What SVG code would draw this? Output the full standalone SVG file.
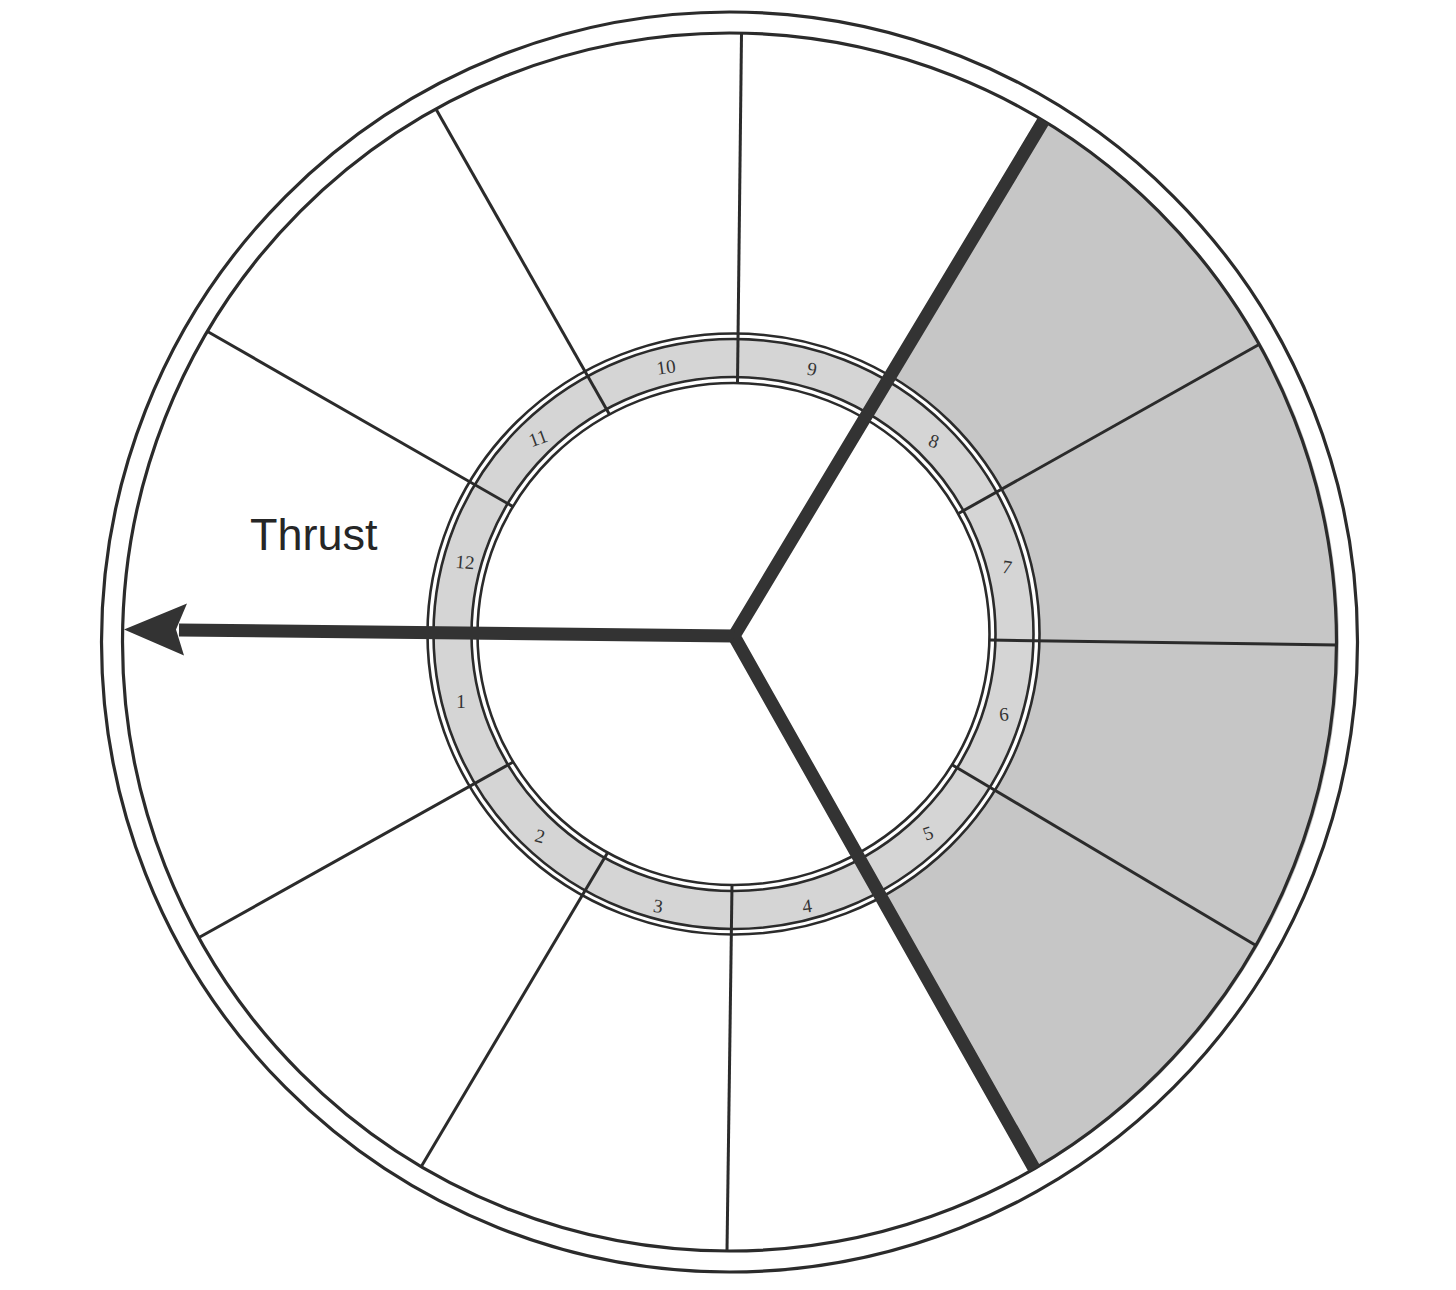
<svg xmlns="http://www.w3.org/2000/svg" width="1456" height="1290" viewBox="0 0 1456 1290">
  <style>
    .ring { fill: none; stroke: #2b2b2b; stroke-width: 2.6; }
    .rim { fill: none; stroke: #2b2b2b; stroke-width: 3.2; }
    .div { stroke: #2b2b2b; stroke-width: 3; fill: none; }
    .thick { stroke: #333333; stroke-width: 13; fill: none; stroke-linejoin: miter; }
    .num { font-family: "Liberation Serif", "DejaVu Serif", serif; font-size: 19px; fill: #333333; text-anchor: middle; }
    .label { font-family: "Liberation Sans", Arial, sans-serif; font-size: 45px; fill: #262626; }
  </style>
  <defs>
    <clipPath id="wheelClip">
      <ellipse cx="729.5" cy="642" rx="607" ry="609"/>
    </clipPath>
  </defs>
  <rect x="0" y="0" width="1456" height="1290" fill="#ffffff"/>

  <g id="shaded-sector">
    <path d="M 890 376 L 1044 120 A 607 609 0 0 1 1035 1170 L 881 897 A 306 300.5 0 0 0 890 376 Z" fill="#c6c6c6"/>
  </g>

  <g id="ring-band">
    <path fill="#d5d5d5" fill-rule="evenodd" d="M 433.5 634 a 300 295 0 1 0 600 0 a 300 295 0 1 0 -600 0 Z M 471.5 634 a 262 257 0 1 0 524 0 a 262 257 0 1 0 -524 0 Z"/>
  </g>

  <g id="rims">
    <ellipse class="rim" cx="729.5" cy="642" rx="628" ry="630"/>
    <ellipse class="rim" cx="729.5" cy="642" rx="607" ry="609"/>
    <ellipse class="ring" cx="733.5" cy="634" rx="306" ry="300.5"/>
    <ellipse class="ring" cx="733.5" cy="634" rx="300" ry="295"/>
    <ellipse class="ring" cx="733.5" cy="634" rx="262" ry="257"/>
    <ellipse class="ring" cx="733.5" cy="634" rx="256" ry="251"/>
  </g>

  <g id="connectors">
    <line class="div" x1="741.5" y1="34" x2="737.5" y2="383"/>
    <line class="div" x1="436.5" y1="110" x2="609.5" y2="414.5"/>
    <line class="div" x1="207.5" y1="331.5" x2="513" y2="506.6"/>
    <line class="div" x1="199" y1="937.5" x2="513.2" y2="762"/>
    <line class="div" x1="421" y1="1167" x2="607.7" y2="852.5"/>
    <line class="div" x1="727" y1="1251" x2="732" y2="885"/>
    <line class="div" x1="1256" y1="945.5" x2="952" y2="764.8"/>
    <line class="div" x1="1337" y1="645" x2="989.5" y2="640"/>
    <line class="div" x1="1259" y1="344.5" x2="958" y2="513.7"/>
    <g clip-path="url(#wheelClip)">
      <path class="thick" d="M 1050.2 109.7 L 734 636 L 1040.9 1180.5"/>
    </g>
    <line class="thick" x1="734" y1="636" x2="179" y2="630"/>
    <polygon points="124,629.5 187,603.5 176,629.5 184,655.5" fill="#333333"/>
  </g>

  <g id="house-numbers">
    <text class="num" x="666" y="373.5" transform="rotate(-8 666 367)">10</text>
    <text class="num" x="812" y="375.5" transform="rotate(10 812 369)">9</text>
    <text class="num" x="934" y="447.5" transform="rotate(20 934 441)">8</text>
    <text class="num" x="1007" y="573.5" transform="rotate(8 1007 567)">7</text>
    <text class="num" x="1004" y="720.5" transform="rotate(-5 1004 714)">6</text>
    <text class="num" x="928" y="839.5" transform="rotate(-20 928 833)">5</text>
    <text class="num" x="807" y="912.5" transform="rotate(-8 807 906)">4</text>
    <text class="num" x="658" y="912.5" transform="rotate(8 658 906)">3</text>
    <text class="num" x="540" y="842.5" transform="rotate(15 540 836)">2</text>
    <text class="num" x="461" y="707.5">1</text>
    <text class="num" x="465" y="568.5" transform="rotate(5 465 562)">12</text>
    <text class="num" x="538" y="444.5" transform="rotate(-20 538 438)">11</text>
  </g>

  <g id="thrust-label">
    <text class="label" x="250" y="550">Thrust</text>
  </g>
</svg>
